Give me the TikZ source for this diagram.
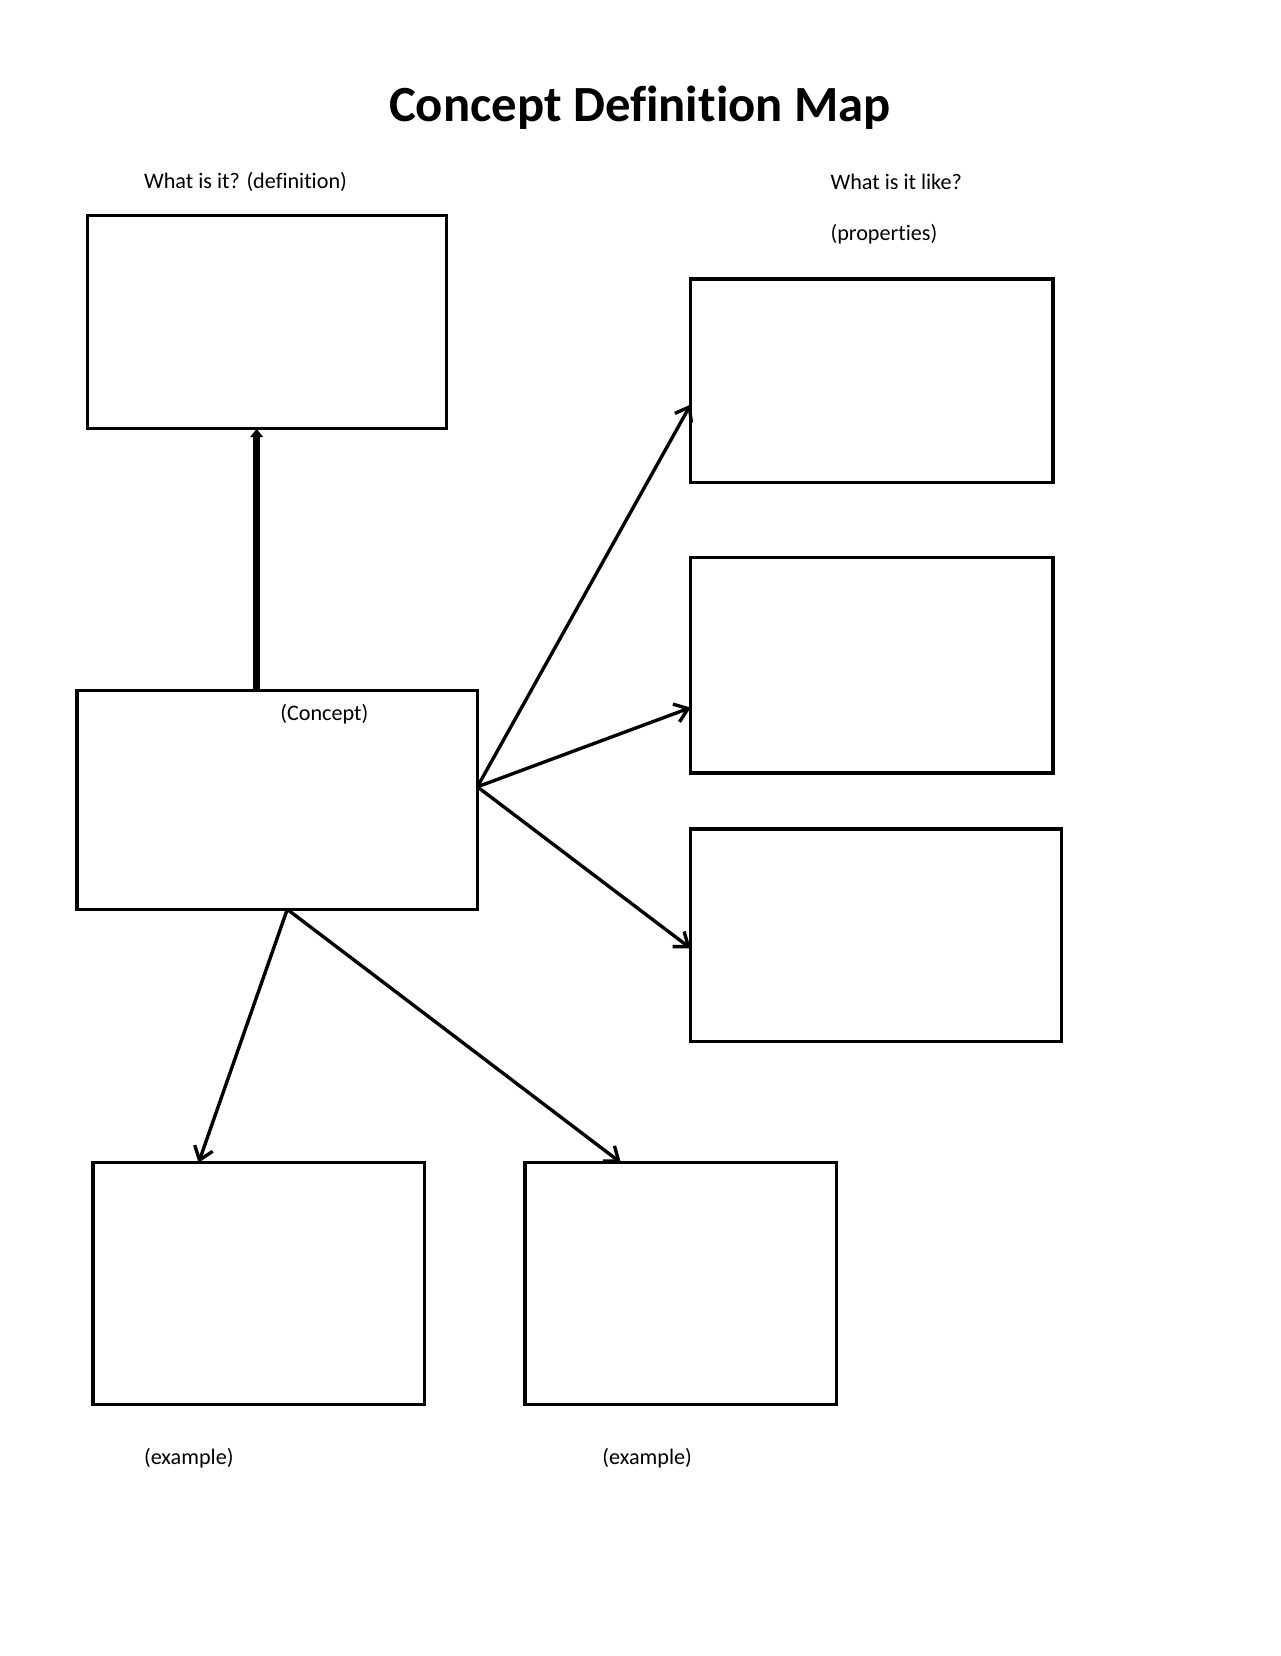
\documentclass[tikz,border=0pt]{standalone}
\usepackage{fontspec}
\setmainfont[Ligatures={NoCommon}]{Carlito}
\usetikzlibrary{arrows.meta}
\begin{document}
\begin{tikzpicture}[x=0.5pt,y=-0.5pt,
  box/.style={draw,line width=1.6pt},
  arr/.style={line width=1.6pt,-{Straight Barb[length=6pt,width=9pt,line width=1.6pt]}},
  lbl/.style={anchor=west,font=\fontsize{10.5pt}{12pt}\selectfont,inner sep=0}]
\useasboundingbox (0,0) rectangle (1212,1568);
\node[font=\fontsize{24pt}{28pt}\selectfont\bfseries] (title) at (606,102) {Concept Definition Map};
\node[lbl] (l1) at (136,172) {What is it? (definition)};
\node[lbl] (l2) at (786,172) {What is it like?};
\node[lbl] (l3) at (786,222) {(properties)};
\node[lbl] (l4) at (265,676) {(Concept)};
\node[lbl] (l5) at (136,1381) {(example)};
\node[lbl] (l6) at (570,1381) {(example)};
\draw[box] (83,204) rectangle (423,406);
\draw[box] (654,264) rectangle (997,457);
\draw[box] (654,528) rectangle (997,732);
\draw[box] (654,785) rectangle (1005,986);
\draw[box] (73,654) rectangle (452,861);
\draw[box] (88,1101) rectangle (402,1330);
\draw[box] (497,1101) rectangle (792,1330);
\coordinate (c) at (452,745);
\coordinate (b) at (272,861);
\draw[line width=3pt,-{Triangle[length=4pt,width=6pt]}] (243,654) -- (243,406);
\draw[arr] (c) -- (654,383);
\draw[arr] (c) -- (654,670);
\draw[arr] (c) -- (654,898);
\draw[arr] (b) -- (188,1101);
\draw[arr] (b) -- (588,1101);
\end{tikzpicture}
\end{document}
